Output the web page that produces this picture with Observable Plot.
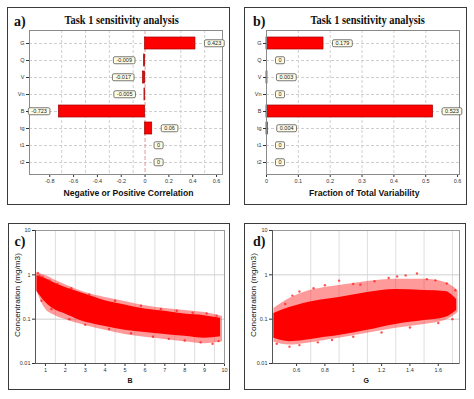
<!DOCTYPE html>
<html><head><meta charset="utf-8">
<script src="https://cdn.jsdelivr.net/npm/d3@7"></script>
<script src="https://cdn.jsdelivr.net/npm/@observablehq/plot@0.6"></script>
<style>
body{margin:0;background:#fff;}
#root{position:relative;width:474px;height:399px;overflow:hidden;background:#fff;}
.box{position:absolute;border:1.5px solid #3a3a3a;box-sizing:border-box;}
.pw{position:absolute;}
.lab{position:absolute;white-space:nowrap;line-height:1;color:#111;}
</style></head><body><div id="root"></div>
<script>
// ---------- data ----------
const params = ["G", "Q", "V", "Vn", "B", "tg", "t1", "t2"];
const corr = [0.423, -0.009, -0.017, -0.005, -0.723, 0.06, 0, 0];
const corrLabels = ["0.423", "-0.009", "-0.017", "-0.005", "-0.723", "0.06", "0", "0"];
const frac = [0.179, 0, 0.003, 0, 0.523, 0.004, 0, 0];
const fracLabels = ["0.179", "0", "0.003", "0", "0.523", "0.004", "0", "0"];
const corrTicks = [-0.8, -0.6, -0.4, -0.2, 0, 0.2, 0.4, 0.6];
const corrGrid = [-0.7, -0.5, -0.3, -0.1, 0.3, 0.5];
const fracTicks = [0, 0.1, 0.2, 0.3, 0.4, 0.5, 0.6];
const logTicks = [0.01, 0.1, 1, 10];

// panel c: concentration vs B (dense core + sparse fringe + scattered points)
const cCoreX = [0.58, 1.0, 1.5, 2.0, 2.75, 3.5, 4.0, 5.0, 6.0, 7.0, 8.0, 9.0, 9.8];
const cCoreHi = [0.95, 0.83, 0.64, 0.52, 0.40, 0.31, 0.26, 0.21, 0.17, 0.15, 0.13, 0.12, 0.105];
const cCoreLo = [0.42, 0.24, 0.16, 0.13, 0.093, 0.076, 0.068, 0.056, 0.050, 0.045, 0.041, 0.037, 0.040];
const cOutX = [0.55, 1.0, 1.5, 2.0, 3.0, 4.0, 5.0, 6.0, 7.0, 8.0, 9.0, 9.9];
const cOutHi = [1.1, 0.97, 0.75, 0.6, 0.4, 0.31, 0.25, 0.2, 0.174, 0.157, 0.141, 0.115];
const cOutLo = [0.45, 0.17, 0.12, 0.098, 0.072, 0.056, 0.045, 0.039, 0.035, 0.031, 0.028, 0.031];
const cDotX = [0.62, 0.7, 0.85, 1.2, 1.6, 2.3, 3.2, 4.5, 5.8, 6.8, 7.6, 8.4, 9.1, 9.6, 0.8, 1.3, 2.2, 3.0, 4.2, 5.3, 6.4, 7.2, 8.0, 8.8, 9.4, 9.7];
const cDotY = [1.1, 0.95, 0.9, 0.75, 0.62, 0.5, 0.36, 0.26, 0.2, 0.17, 0.155, 0.14, 0.135, 0.12, 0.26, 0.17, 0.1, 0.075, 0.06, 0.048, 0.04, 0.036, 0.033, 0.03, 0.028, 0.032];

// panel d: concentration vs G
const dCoreX = [0.44, 0.55, 0.65, 0.80, 0.90, 1.10, 1.30, 1.50, 1.65, 1.73];
const dCoreHi = [0.134, 0.183, 0.226, 0.278, 0.308, 0.399, 0.467, 0.443, 0.421, 0.278];
const dCoreLo = [0.037, 0.031, 0.033, 0.039, 0.043, 0.056, 0.076, 0.093, 0.109, 0.157];
const dOutX = [0.44, 0.55, 0.65, 0.80, 0.90, 1.10, 1.30, 1.50, 1.65, 1.74];
const dOutHi = [0.174, 0.292, 0.399, 0.518, 0.574, 0.708, 0.80, 0.79, 0.67, 0.44];
const dOutLo = [0.030, 0.026, 0.028, 0.033, 0.037, 0.048, 0.062, 0.076, 0.093, 0.141];
const dDotX = [0.52, 0.57, 0.62, 0.72, 0.8, 0.9, 1.0, 1.05, 1.15, 1.25, 1.31, 1.37, 1.45, 1.52, 1.58, 1.66, 1.72, 0.46, 0.55, 0.62, 0.75, 0.85, 1.0, 1.2, 1.4, 1.6, 1.7];
const dDotY = [0.22, 0.34, 0.42, 0.5, 0.58, 0.74, 0.62, 0.6, 0.72, 0.85, 0.92, 0.97, 1.07, 0.8, 0.75, 0.64, 0.45, 0.028, 0.024, 0.026, 0.03, 0.034, 0.04, 0.05, 0.065, 0.082, 0.1];

// ---------- helpers ----------
const root = document.getElementById("root");
const SANS = "'Liberation Sans', Arial, sans-serif";
const SERIF = "'Liberation Serif', 'Times New Roman', serif";

function box(l, t, w, h) {
  const d = document.createElement("div");
  d.className = "box";
  Object.assign(d.style, {left: l + "px", top: t + "px", width: w + "px", height: h + "px"});
  root.appendChild(d);
}
function place(svg, l, t) {
  const w = document.createElement("div");
  w.className = "pw";
  w.style.left = l + "px"; w.style.top = t + "px";
  w.appendChild(svg);
  root.appendChild(w);
  return svg;
}
function addText(txt, cx, cy, css, targetW, rotate) {
  const d = document.createElement("div");
  d.className = "lab";
  d.textContent = txt;
  Object.assign(d.style, css);
  root.appendChild(d);
  const w = d.offsetWidth, h = d.offsetHeight;
  const s = targetW ? targetW / w : 1;
  d.style.left = (cx - w / 2) + "px";
  d.style.top = (cy - h / 2) + "px";
  d.style.transform = (rotate ? "rotate(-90deg) " : "") + `scaleX(${s})`;
}
function boxLabels(svg) {
  let texts = svg.querySelectorAll('g[aria-description="vlab"] text');
  if (!texts.length) texts = svg.querySelectorAll('g[aria-label="text"] text');
  texts.forEach(t => {
    const bb = t.getBBox();
    const r = document.createElementNS("http://www.w3.org/2000/svg", "rect");
    r.setAttribute("x", bb.x - 3);
    r.setAttribute("y", bb.y - 0.5);
    r.setAttribute("width", bb.width + 6);
    r.setAttribute("height", bb.height + 1);
    r.setAttribute("rx", 1.5);
    r.setAttribute("fill", "#fffde6");
    r.setAttribute("stroke", "#555");
    r.setAttribute("stroke-width", 0.8);
    const tr = t.getAttribute("transform");
    if (tr) r.setAttribute("transform", tr);
    t.parentNode.insertBefore(r, t);
  });
}

const plotStyle = {fontSize: "5.5px", fontFamily: SANS, color: "#333", background: "transparent", overflow: "visible"};

function barPanel(values, labels, xdom, ticks, grid, zeroLine, left) {
  const rows = params.map((p, i) => ({p, v: values[i], t: labels[i]}));
  const marks = [
    Plot.ruleX(grid, {stroke: "#d0d0d0", strokeDasharray: "3,2"}),
    Plot.ruleY(params, {y: d => d, stroke: "#cfcfcf", strokeDasharray: "3,2"}),
  ];
  if (zeroLine) marks.push(Plot.ruleX([0], {stroke: "#e79a9a", strokeDasharray: "4,2"}));
  marks.push(
    Plot.barX(rows.filter(d => d.v !== 0), {x: "v", y: "p", fill: "#ff0000", stroke: "#a00000", strokeWidth: 0.7}),
    Plot.frame({stroke: "#8a8a8a"}),
    Plot.text(rows.filter(d => d.v >= 0), {x: "v", y: "p", text: "t", textAnchor: "start", dx: 12, fill: "#222", fontSize: 5.5, ariaDescription: "vlab"}),
    Plot.text(rows.filter(d => d.v < 0), {x: "v", y: "p", text: "t", textAnchor: "end", dx: -12, fill: "#222", fontSize: 5.5, ariaDescription: "vlab"})
  );
  const svg = Plot.plot({
    width: 223, height: 198,
    marginLeft: 22, marginRight: 8, marginTop: 23, marginBottom: 31,
    x: {domain: xdom, ticks: ticks, tickFormat: d => String(d), label: null, tickSize: 3, tickPadding: 2},
    y: {domain: params, padding: 0.3, label: null, tickSize: 3, tickPadding: 2},
    style: plotStyle,
    marks
  });
  place(svg, left, 7);
  boxLabels(svg);
}

function scatterPanel(xdom, xticks, vgrid, core, outer, dots, left, mLeft, mRight) {
  const coreRows = core[0].map((x, i) => ({x, lo: core[2][i], hi: core[1][i]}));
  const outRows = outer[0].map((x, i) => ({x, lo: outer[2][i], hi: outer[1][i]}));
  const dotRows = dots[0].map((x, i) => ({x, y: dots[1][i]}));
  const svg = Plot.plot({
    width: 222, height: 167,
    marginLeft: mLeft, marginRight: mRight, marginTop: 7, marginBottom: 27,
    x: {domain: xdom, ticks: xticks, tickFormat: d => String(d), label: null, tickSize: 3, tickPadding: 2},
    y: {type: "log", domain: [0.01, 10], ticks: logTicks, tickFormat: d => String(d), label: null, tickSize: 3, tickPadding: 2},
    style: plotStyle,
    marks: [
      Plot.ruleX(vgrid, {stroke: "#dedede"}),
      Plot.ruleY([0.1, 1], {stroke: "#cfcfcf"}),
      Plot.areaY(outRows, {x: "x", y1: "lo", y2: "hi", fill: "#ff2020", fillOpacity: 0.45, curve: "monotone-x", clip: true}),
      Plot.areaY(coreRows, {x: "x", y1: "lo", y2: "hi", fill: "#ff0000", curve: "monotone-x", clip: true}),
      Plot.dot(dotRows, {x: "x", y: "y", r: 1.2, fill: "#ff1a1a", fillOpacity: 0.75, clip: true}),
      Plot.frame({stroke: "#9a9a9a"}),
      Plot.ruleX([xdom[0]], {stroke: "#555"}),
      Plot.ruleY([0.01], {stroke: "#555"})
    ]
  });
  place(svg, left, 223);
}

// ---------- layout ----------
box(7, 7, 223, 198);
box(244, 7, 223, 198);
box(8, 223, 222, 167);
box(244, 223, 222, 167);

barPanel(corr, corrLabels, [-0.97, 0.65], corrTicks, corrGrid, true, 7);
barPanel(frac, fracLabels, [0, 0.606], fracTicks, [0.1, 0.2, 0.3, 0.4, 0.5], false, 244);

scatterPanel([0.5, 10], [1, 2, 3, 4, 5, 6, 7, 8, 9, 10], [1.5, 2.5, 3.5, 4.5, 5.5, 6.5, 7.5, 8.5, 9.5],
  [cCoreX, cCoreHi, cCoreLo], [cOutX, cOutHi, cOutLo], [cDotX, cDotY], 8, 27, 6);
scatterPanel([0.43, 1.75], [0.6, 0.8, 1, 1.2, 1.4, 1.6], [0.7, 0.9, 1.1, 1.3, 1.5, 1.7],
  [dCoreX, dCoreHi, dCoreLo], [dOutX, dOutHi, dOutLo], [dDotX, dDotY], 244, 28, 7);

// titles and labels
const titleCss = {fontFamily: SERIF, fontWeight: "bold", fontSize: "12px"};
addText("Task 1 sensitivity analysis", 121, 20, titleCss, 114);
addText("Task 1 sensitivity analysis", 367, 20, titleCss, 114);
const letterCss = {fontFamily: SERIF, fontWeight: "bold", fontSize: "14px"};
addText("a)", 20, 22, letterCss);
addText("b)", 259, 22, letterCss);
addText("c)", 20, 242, letterCss);
addText("d)", 259, 242, letterCss);
const xtCss = {fontFamily: SANS, fontWeight: "bold", fontSize: "8.5px"};
addText("Negative or Positive Correlation", 128, 193, xtCss, 130);
addText("Fraction of Total Variability", 364, 193, xtCss, 110);
const ylCss = {fontFamily: SANS, fontSize: "8px"};
addText("Concentration (mg/m3)", 18, 295, ylCss, 84, true);
addText("Concentration (mg/m3)", 254, 295, ylCss, 84, true);
const xlCss = {fontFamily: SANS, fontSize: "7px", fontWeight: "bold"};
addText("B", 130, 380, xlCss);
addText("G", 366, 380, xlCss);
</script>
</body></html>
